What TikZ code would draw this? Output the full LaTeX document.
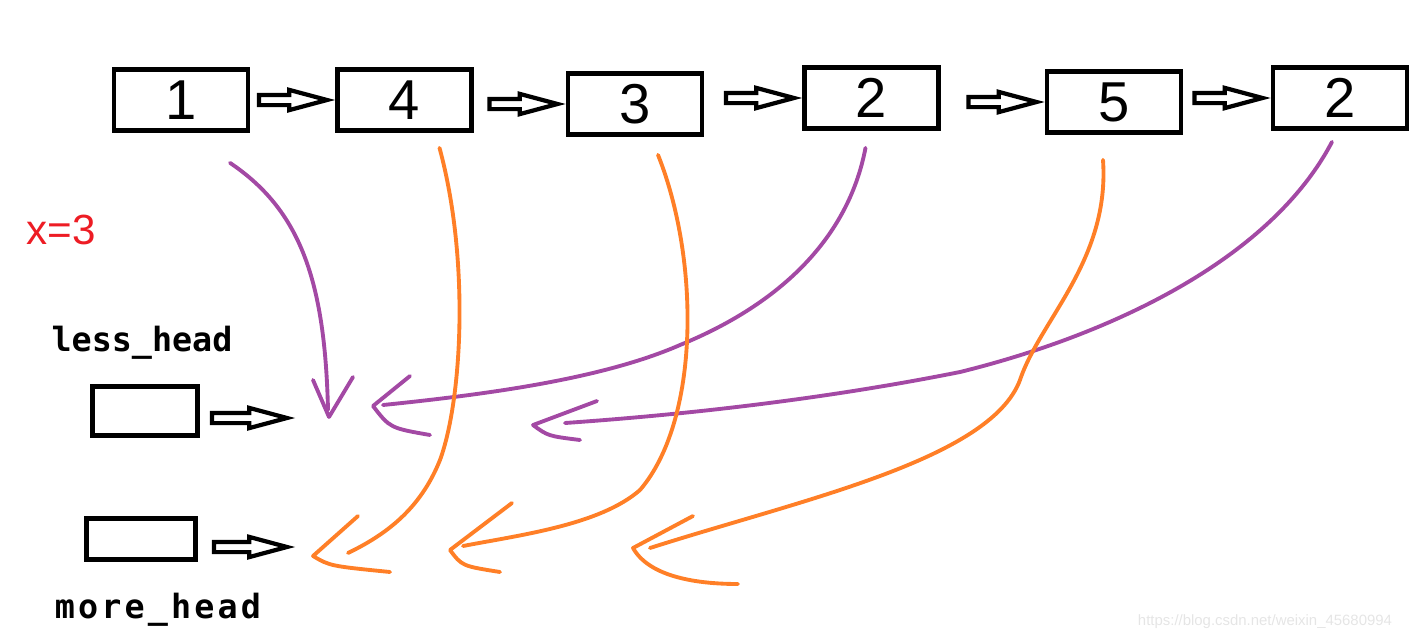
\documentclass[tikz,border=0pt]{standalone}
\usepackage{fontspec}
\setmainfont{Liberation Sans}
\newfontfamily\headfont{DejaVu Sans Mono}
\usetikzlibrary{shapes.arrows,positioning}
\definecolor{lesspen}{RGB}{163,73,164}
\definecolor{morepen}{RGB}{255,127,39}
\definecolor{xred}{RGB}{237,28,36}

\begin{document}
\begin{tikzpicture}[x=0.02cm,y=-0.02cm,
  cell/.style={draw,line width=2.7pt,minimum width=2.68cm,minimum height=1.22cm,inner sep=0pt,font=\fontsize{32}{34}\selectfont},
  hollow/.style={single arrow,draw,line width=2.4pt,inner sep=0pt,inner ysep=0.06cm,minimum width=1pt,
    minimum height=1.36cm,single arrow head extend=0.1cm,single arrow tip angle=30},
  headlabel/.style={font=\headfont\bfseries\fontsize{19}{21}\selectfont},
  lessline/.style={lesspen,line width=2.2pt,line cap=round,line join=round},
  moreline/.style={morepen,line width=2.2pt,line cap=round,line join=round}]
\useasboundingbox (0,0) rectangle (1411,643);

% TOP: the list 1 -> 4 -> 3 -> 2 -> 5 -> 2
\node[cell] (b1) at (181,100) {1};
\node[cell] (b2) at (404.5,100) {4};
\node[cell] (b3) at (635,104) {3};
\node[cell] (b4) at (871.5,98) {2};
\node[cell] (b5) at (1114,102) {5};
\node[cell] (b6) at (1340,98) {2};
\node[hollow,anchor=tip] (a12) at (b2.west) {};
\node[hollow,anchor=tip] (a23) at (b3.west) {};
\node[hollow,anchor=tip] (a34) at (b4.west) {};
\node[hollow,anchor=tip] (a45) at (b5.west) {};
\node[hollow,anchor=tip] (a56) at (b6.west) {};

\node[text=xred,font=\fontsize{24}{26}\selectfont] (xval) at (61,230) {x=3};

% LEFT: the two new heads
\node[headlabel] (lesslabel) at (142,343) {less\_head};
\node[cell,minimum width=2.1cm,minimum height=0.98cm] (less) at (145,411) {};
\node[hollow,minimum height=1.5cm,right=0.2cm of less,yshift=-0.14cm] (lessarrow) {};
\node[cell,minimum width=2.18cm,minimum height=0.82cm] (more) at (141,539) {};
\node[hollow,minimum height=1.46cm,right=0.28cm of more,yshift=-0.16cm] (morearrow) {};
\node[headlabel] (morelabel) at (158,610) {\addfontfeatures{LetterSpace=9.5}more\_head};

% start and end points of the hand drawn moves
\coordinate (s1) at ([shift={(49,30)}]b1.south);
\coordinate (s2) at ([shift={(-6,17)}]b4.south);
\coordinate (s3) at ([shift={(-8,11)}]b6.south);
\coordinate (s4) at ([shift={(35,15)}]b2.south);
\coordinate (s5) at ([shift={(23,18)}]b3.south);
\coordinate (s6) at ([shift={(-11,25)}]b5.south);
\coordinate (t1) at (328,410);
\coordinate (t2) at (383,405);
\coordinate (t3) at (565,423);
\coordinate (t4) at (348,553);
\coordinate (t5) at (463,546);
\coordinate (t6) at (650,548);

% values < x go to less_head
\draw[lessline] (s1) .. controls (300,210) and (325,280) .. (t1);
\draw[lessline] (313,380) -- (329,417) -- (353,377);
\draw[lessline] (s2) .. controls (850,230) and (790,300) .. (680,345) .. controls (600,380) and (480,395) .. (t2);
\draw[lessline] (410,376) -- (373,406) .. controls (390,428) .. (430,435);
\draw[lessline] (s3) .. controls (1270,260) and (1110,335) .. (960,372) .. controls (820,400) and (680,415) .. (t3);
\draw[lessline] (597,401) -- (533,425) .. controls (548,436) .. (580,440);

% values >= x go to more_head
\draw[moreline] (s4) .. controls (470,260) and (462,400) .. (440,460) .. controls (420,510) and (385,535) .. (t4);
\draw[moreline] (358,516) -- (313,556) .. controls (330,566) .. (390,572);
\draw[moreline] (s5) .. controls (700,260) and (700,420) .. (640,490) .. controls (600,525) and (520,535) .. (t5);
\draw[moreline] (512,503) -- (450,550) .. controls (462,566) .. (500,572);
\draw[moreline] (s6) .. controls (1110,260) and (1040,320) .. (1020,380) .. controls (990,460) and (800,500) .. (t6);
\draw[moreline] (693,516) -- (633,548) .. controls (650,578) and (700,584) .. (738,584);

\node[text=black!10,font=\fontsize{8.5}{10}\selectfont] (mark) at (1265,622) {https://blog.csdn.net/weixin\_45680994};
\end{tikzpicture}
\end{document}
